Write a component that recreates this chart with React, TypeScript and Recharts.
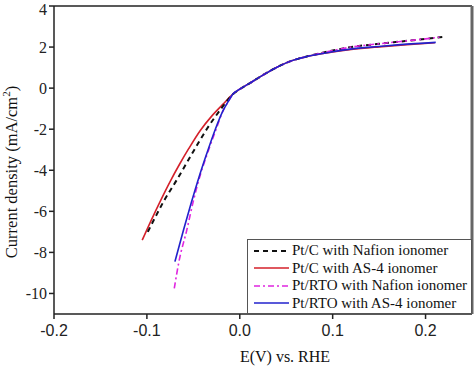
import { Line, LineChart, ReferenceLine, XAxis, YAxis } from 'recharts';

// measured E (V vs RHE) / current density (mA/cm2) pairs
const ptcNafionE = [-0.099, -0.09, -0.082, -0.0677, -0.056, -0.045, -0.0353, -0.02, -0.008, 0, 0.01, 0.02, 0.03, 0.04, 0.05, 0.06, 0.07, 0.08, 0.1, 0.12, 0.15, 0.173, 0.2, 0.218];
const ptcNafionJ = [-7.0, -6.2, -5.52, -4.46, -3.55, -2.7, -1.98, -1.0, -0.32, -0.05, 0.22, 0.5, 0.77, 1.02, 1.23, 1.39, 1.52, 1.63, 1.83, 2.0, 2.16, 2.27, 2.4, 2.49];

const ptcAs4E = [-0.105, -0.095, -0.085, -0.075, -0.065, -0.055, -0.0423, -0.03, -0.018, -0.008, 0, 0.01, 0.02, 0.03, 0.04, 0.05, 0.06, 0.07, 0.08, 0.1, 0.12, 0.15, 0.18, 0.21];
const ptcAs4J = [-7.4, -6.4, -5.45, -4.55, -3.72, -2.95, -2.05, -1.35, -0.78, -0.32, -0.05, 0.22, 0.5, 0.77, 1.02, 1.23, 1.39, 1.51, 1.61, 1.76, 1.88, 2.01, 2.12, 2.21];

const rtoNafionE = [-0.0705, -0.0655, -0.057, -0.05, -0.043, -0.035, -0.0255, -0.018, -0.012, -0.008, 0, 0.01, 0.02, 0.03, 0.04, 0.05, 0.06, 0.07, 0.08, 0.1, 0.12, 0.15, 0.173, 0.2, 0.215];
const rtoNafionJ = [-9.75, -8.45, -6.9, -5.5, -4.3, -3.2, -2.0, -1.1, -0.62, -0.32, -0.05, 0.22, 0.5, 0.77, 1.02, 1.23, 1.39, 1.52, 1.63, 1.83, 2.0, 2.16, 2.27, 2.4, 2.48];

const rtoAs4E = [-0.0698, -0.0605, -0.052, -0.044, -0.036, -0.0263, -0.018, -0.012, -0.008, 0, 0.01, 0.02, 0.03, 0.04, 0.05, 0.06, 0.07, 0.08, 0.1, 0.119, 0.15, 0.173, 0.211];
const rtoAs4J = [-8.45, -6.9, -5.55, -4.35, -3.25, -2.0, -1.1, -0.62, -0.32, -0.05, 0.22, 0.5, 0.77, 1.02, 1.23, 1.39, 1.51, 1.61, 1.77, 1.9, 2.03, 2.12, 2.23];

const xTicks = [-0.2, -0.1, 0, 0.1, 0.2];
const yTicks = [-10, -8, -6, -4, -2, 0, 2, 4];

const toPoints = (e: number[], j: number[]) => e.map((v, i) => ({ e: v, j: j[i] }));

const series = [
  { name: 'Pt/C with Nafion ionomer', data: toPoints(ptcNafionE, ptcNafionJ), color: '#111111', dash: '5 4', width: 2 },
  { name: 'Pt/C with AS-4 ionomer', data: toPoints(ptcAs4E, ptcAs4J), color: '#d4202a', dash: undefined, width: 1.6 },
  { name: 'Pt/RTO with Nafion ionomer', data: toPoints(rtoNafionE, rtoNafionJ), color: '#e026e0', dash: '6 3 2 3', width: 1.6 },
  { name: 'Pt/RTO with AS-4 ionomer', data: toPoints(rtoAs4E, rtoAs4J), color: '#2222cc', dash: undefined, width: 1.6 },
];

// draw order: red, black, magenta, blue on top
const drawOrder = [1, 0, 2, 3];

const serif = '"Liberation Serif", "DejaVu Serif", serif';
const sans = '"Liberation Sans", Arial, sans-serif';

function YTitle() {
  return (
    <text x={17} y={172} transform="rotate(-90, 17, 172)" textAnchor="middle" fill="#111" fontSize={16.5} fontFamily={serif}>
      Current density (mA/cm
      <tspan fontSize={11} dy={-7}>2</tspan>
      <tspan dy={7}>)</tspan>
    </text>
  );
}

function LegendBox() {
  return (
    <div
      style={{
        position: 'absolute',
        left: 247,
        top: 239,
        width: 225,
        height: 75,
        border: '1px solid #555',
        background: '#fff',
        boxSizing: 'border-box',
        fontFamily: serif,
        fontSize: 15,
        color: '#111',
        paddingTop: 2,
      }}
    >
      {series.map((s) => (
        <div key={s.name} style={{ display: 'flex', alignItems: 'center', height: 17.5 }}>
          <svg width={44} height={10} style={{ flex: 'none' }}>
            <line
              x1={6}
              x2={41}
              y1={5}
              y2={5}
              stroke={s.color}
              strokeWidth={s.width}
              strokeDasharray={s.dash}
            />
          </svg>
          <span style={{ whiteSpace: 'nowrap' }}>{s.name}</span>
        </div>
      ))}
    </div>
  );
}

export default function App() {
  return (
    <div style={{ position: 'absolute', left: 0, top: 0, width: 474, height: 366, background: '#fff' }}>
      <LineChart width={474} height={366} margin={{ top: 6, right: 0, left: 10, bottom: 12 }}>
        <XAxis
          type="number"
          dataKey="e"
          domain={[-0.2, 0.25]}
          ticks={xTicks}
          allowDuplicatedCategory={false}
          tickFormatter={(v: number) => (v === 0 ? '0.0' : v.toFixed(1))}
          stroke="#222"
          strokeWidth={1.5}
          tickSize={5}
          tickMargin={6}
          tick={{ fill: '#222', fontSize: 16, fontFamily: sans }}
          height={40}
          label={{ value: 'E(V) vs. RHE', position: 'insideBottom', offset: -8, dx: 22, fill: '#111', fontSize: 16, fontFamily: serif }}
        />
        <YAxis
          type="number"
          dataKey="j"
          domain={[-11, 4]}
          ticks={yTicks}
          stroke="#222"
          strokeWidth={1.5}
          tickSize={5}
          width={44}
          tick={{ fill: '#222', fontSize: 16, fontFamily: serif }}
          label={<YTitle />}
        />
        <YAxis yAxisId="right" orientation="right" domain={[-11, 4]} tick={false} tickLine={false} width={2} stroke="#666" strokeWidth={3} />
        <ReferenceLine y={4} stroke="#222" strokeWidth={1.5} />
        {drawOrder.map((i) => {
          const s = series[i];
          return (
            <Line
              key={s.name}
              name={s.name}
              data={s.data}
              dataKey="j"
              type="monotone"
              stroke={s.color}
              strokeWidth={s.width}
              strokeDasharray={s.dash}
              dot={false}
              activeDot={false}
              isAnimationActive={false}
            />
          );
        })}
      </LineChart>
      <LegendBox />
    </div>
  );
}
